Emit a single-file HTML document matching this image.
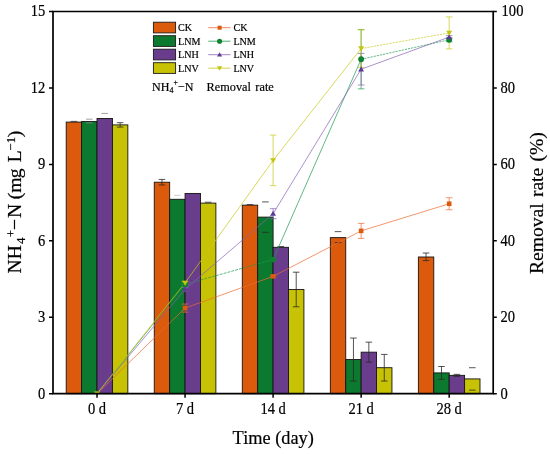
<!DOCTYPE html>
<html><head><meta charset="utf-8"><title>NH4+-N and removal rate</title>
<style>html,body{margin:0;padding:0;background:#fff;}svg{display:block;}text{font-family:"Liberation Serif","Times New Roman",serif;fill:#000;stroke:#000;stroke-width:0.2px;}</style></head><body>
<svg width="550" height="454" viewBox="0 0 550 454">
<rect x="0" y="0" width="550" height="454" fill="#ffffff"/>
<rect x="66.21" y="122.08" width="15.41" height="271.62" fill="#DB5A0C" stroke="#141414" stroke-width="0.9"/>
<rect x="81.61" y="121.57" width="15.41" height="272.13" fill="#0C7A2E" stroke="#141414" stroke-width="0.9"/>
<rect x="97.02" y="118.52" width="15.41" height="275.18" fill="#6A3D8C" stroke="#141414" stroke-width="0.9"/>
<rect x="112.43" y="124.89" width="15.41" height="268.81" fill="#C8C204" stroke="#141414" stroke-width="0.9"/>
<rect x="154.25" y="182.22" width="15.41" height="211.48" fill="#DB5A0C" stroke="#141414" stroke-width="0.9"/>
<rect x="169.65" y="199.29" width="15.41" height="194.41" fill="#0C7A2E" stroke="#141414" stroke-width="0.9"/>
<rect x="185.06" y="193.43" width="15.41" height="200.27" fill="#6A3D8C" stroke="#141414" stroke-width="0.9"/>
<rect x="200.47" y="203.11" width="15.41" height="190.59" fill="#C8C204" stroke="#141414" stroke-width="0.9"/>
<rect x="242.29" y="205.15" width="15.41" height="188.55" fill="#DB5A0C" stroke="#141414" stroke-width="0.9"/>
<rect x="257.69" y="217.12" width="15.41" height="176.58" fill="#0C7A2E" stroke="#141414" stroke-width="0.9"/>
<rect x="273.10" y="247.32" width="15.41" height="146.38" fill="#6A3D8C" stroke="#141414" stroke-width="0.9"/>
<rect x="288.51" y="289.49" width="15.41" height="104.21" fill="#C8C204" stroke="#141414" stroke-width="0.9"/>
<rect x="330.33" y="237.63" width="15.41" height="156.06" fill="#DB5A0C" stroke="#141414" stroke-width="0.9"/>
<rect x="345.73" y="359.56" width="15.41" height="34.14" fill="#0C7A2E" stroke="#141414" stroke-width="0.9"/>
<rect x="361.14" y="352.17" width="15.41" height="41.53" fill="#6A3D8C" stroke="#141414" stroke-width="0.9"/>
<rect x="376.55" y="367.71" width="15.41" height="25.99" fill="#C8C204" stroke="#141414" stroke-width="0.9"/>
<rect x="418.37" y="257.00" width="15.41" height="136.70" fill="#DB5A0C" stroke="#141414" stroke-width="0.9"/>
<rect x="433.77" y="372.91" width="15.41" height="20.79" fill="#0C7A2E" stroke="#141414" stroke-width="0.9"/>
<rect x="449.18" y="375.35" width="15.41" height="18.35" fill="#6A3D8C" stroke="#141414" stroke-width="0.9"/>
<rect x="464.59" y="378.92" width="15.41" height="14.78" fill="#C8C204" stroke="#141414" stroke-width="0.9"/>
<path d="M70.61 121.38H77.21" stroke="#2a2a2a" stroke-width="0.8" fill="none"/>
<path d="M86.02 119.17H92.62M86.02 122.87H92.62" stroke="#8a8a8a" stroke-width="0.8" fill="none"/>
<path d="M101.42 113.42H108.02" stroke="#8a8a8a" stroke-width="0.8" fill="none"/>
<path d="M116.83 122.69H123.43M116.83 127.09H123.43M120.13 122.69V127.09" stroke="#2a2a2a" stroke-width="0.8" fill="none"/>
<path d="M158.65 179.42H165.25M158.65 185.02H165.25M161.95 179.42V185.02" stroke="#2a2a2a" stroke-width="0.8" fill="none"/>
<path d="M174.06 195.29H180.66" stroke="#c4c4c4" stroke-width="0.8" fill="none"/>
<path d="M204.87 202.21H211.47" stroke="#2a2a2a" stroke-width="0.8" fill="none"/>
<path d="M246.69 204.55H253.29" stroke="#2a2a2a" stroke-width="0.8" fill="none"/>
<path d="M262.10 201.92H268.70M262.10 232.32H268.70" stroke="#2a2a2a" stroke-width="0.8" fill="none"/>
<path d="M277.50 246.52H284.10" stroke="#2a2a2a" stroke-width="0.8" fill="none"/>
<path d="M292.91 272.19H299.51M292.91 306.79H299.51M296.21 272.19V306.79" stroke="#2a2a2a" stroke-width="0.8" fill="none"/>
<path d="M334.73 231.63H341.33M334.73 242.63H341.33" stroke="#2a2a2a" stroke-width="0.8" fill="none"/>
<path d="M350.14 338.06H356.74M350.14 381.06H356.74M353.44 338.06V381.06" stroke="#2a2a2a" stroke-width="0.8" fill="none"/>
<path d="M365.54 342.17H372.14M365.54 362.17H372.14M368.84 342.17V362.17" stroke="#2a2a2a" stroke-width="0.8" fill="none"/>
<path d="M380.95 354.41H387.55M380.95 381.01H387.55M384.25 354.41V381.01" stroke="#2a2a2a" stroke-width="0.8" fill="none"/>
<path d="M422.77 253.00H429.37M422.77 260.60H429.37M426.07 253.00V260.60" stroke="#2a2a2a" stroke-width="0.8" fill="none"/>
<path d="M438.18 366.51H444.78M438.18 379.31H444.78M441.48 366.51V379.31" stroke="#2a2a2a" stroke-width="0.8" fill="none"/>
<path d="M453.58 374.35H460.18M453.58 376.35H460.18M456.88 374.35V376.35" stroke="#2a2a2a" stroke-width="0.8" fill="none"/>
<path d="M468.99 367.72H475.59M468.99 390.12H475.59" stroke="#2a2a2a" stroke-width="0.8" fill="none"/>
<clipPath id="pc"><rect x="53.0" y="11.5" width="440.2" height="382.2"/></clipPath><g clip-path="url(#pc)">
<line x1="97.02" y1="393.70" x2="185.06" y2="308.09" stroke="#EE6A30" stroke-width="0.7"/>
<line x1="185.06" y1="308.09" x2="273.10" y2="276.36" stroke="#EE6A30" stroke-width="0.7"/>
<line x1="273.10" y1="276.36" x2="361.14" y2="230.88" stroke="#EE6A30" stroke-width="0.7"/>
<line x1="361.14" y1="230.88" x2="449.18" y2="203.75" stroke="#EE6A30" stroke-width="0.7"/>
<line x1="97.02" y1="393.70" x2="185.06" y2="284.39" stroke="#1E9A50" stroke-width="0.7"/>
<line x1="185.06" y1="284.39" x2="273.10" y2="259.55" stroke="#1E9A50" stroke-width="0.7" stroke-dasharray="3 1"/>
<line x1="273.10" y1="259.55" x2="361.14" y2="59.27" stroke="#1E9A50" stroke-width="0.7"/>
<line x1="361.14" y1="59.27" x2="449.18" y2="39.78" stroke="#1E9A50" stroke-width="0.7" stroke-dasharray="2.2 1"/>
<line x1="97.02" y1="393.70" x2="185.06" y2="289.36" stroke="#8563B4" stroke-width="0.7"/>
<line x1="185.06" y1="289.36" x2="273.10" y2="213.68" stroke="#8563B4" stroke-width="0.7"/>
<line x1="273.10" y1="213.68" x2="361.14" y2="69.21" stroke="#8563B4" stroke-width="0.7"/>
<line x1="361.14" y1="69.21" x2="449.18" y2="37.11" stroke="#8563B4" stroke-width="0.7"/>
<line x1="97.02" y1="393.70" x2="185.06" y2="282.86" stroke="#C8C818" stroke-width="0.7"/>
<line x1="185.06" y1="282.86" x2="273.10" y2="160.37" stroke="#C8C818" stroke-width="0.7"/>
<line x1="273.10" y1="160.37" x2="361.14" y2="48.57" stroke="#C8C818" stroke-width="0.7"/>
<line x1="361.14" y1="48.57" x2="449.18" y2="32.90" stroke="#C8C818" stroke-width="0.7" stroke-dasharray="2.2 1"/>
<path d="M181.76 303.99H188.36M181.76 312.19H188.36M185.06 303.99V312.19" stroke="#EE6A30" stroke-width="0.7" fill="none"/>
<path d="M269.80 275.56H276.40M269.80 277.16H276.40M273.10 275.56V277.16" stroke="#EE6A30" stroke-width="0.7" fill="none"/>
<path d="M357.84 223.38H364.44M357.84 238.38H364.44M361.14 223.38V238.38" stroke="#EE6A30" stroke-width="0.7" fill="none"/>
<path d="M445.88 197.75H452.48M445.88 209.75H452.48M449.18 197.75V209.75" stroke="#EE6A30" stroke-width="0.7" fill="none"/>
<path d="M181.76 282.39H188.36M181.76 286.39H188.36M185.06 282.39V286.39" stroke="#1E9A50" stroke-width="0.7" fill="none"/>
<path d="M269.80 258.55H276.40M269.80 260.55H276.40M273.10 258.55V260.55" stroke="#1E9A50" stroke-width="0.7" fill="none"/>
<path d="M357.84 29.67H364.44M357.84 88.87H364.44M361.14 29.67V88.87" stroke="#1E9A50" stroke-width="0.7" fill="none"/>
<path d="M445.88 37.78H452.48M445.88 41.78H452.48M449.18 37.78V41.78" stroke="#1E9A50" stroke-width="0.7" fill="none"/>
<path d="M181.76 287.36H188.36M181.76 291.36H188.36M185.06 287.36V291.36" stroke="#8563B4" stroke-width="0.7" fill="none"/>
<path d="M269.80 208.68H276.40M269.80 218.68H276.40M273.10 208.68V218.68" stroke="#8563B4" stroke-width="0.7" fill="none"/>
<path d="M357.84 53.41H364.44M357.84 85.01H364.44M361.14 53.41V85.01" stroke="#8563B4" stroke-width="0.7" fill="none"/>
<path d="M445.88 35.61H452.48M445.88 38.61H452.48M449.18 35.61V38.61" stroke="#8563B4" stroke-width="0.7" fill="none"/>
<path d="M181.76 281.36H188.36M181.76 284.36H188.36M185.06 281.36V284.36" stroke="#C8C818" stroke-width="0.7" fill="none"/>
<path d="M269.80 135.07H276.40M269.80 185.67H276.40M273.10 135.07V185.67" stroke="#C8C818" stroke-width="0.7" fill="none"/>
<path d="M357.84 29.77H364.44M357.84 67.37H364.44M361.14 29.77V67.37" stroke="#C8C818" stroke-width="0.7" fill="none"/>
<path d="M445.88 16.90H452.48M445.88 48.90H452.48M449.18 16.90V48.90" stroke="#C8C818" stroke-width="0.7" fill="none"/>
<rect x="94.72" y="391.40" width="4.60" height="4.60" fill="#DB5A0C"/>
<rect x="182.76" y="305.79" width="4.60" height="4.60" fill="#DB5A0C"/>
<rect x="270.80" y="274.06" width="4.60" height="4.60" fill="#DB5A0C"/>
<rect x="358.84" y="228.58" width="4.60" height="4.60" fill="#DB5A0C"/>
<rect x="446.88" y="201.45" width="4.60" height="4.60" fill="#DB5A0C"/>
<circle cx="97.02" cy="393.70" r="2.90" fill="#0E8230"/>
<circle cx="185.06" cy="284.39" r="2.90" fill="#0E8230"/>
<circle cx="273.10" cy="259.55" r="2.90" fill="#0E8230"/>
<circle cx="361.14" cy="59.27" r="2.90" fill="#0E8230"/>
<circle cx="449.18" cy="39.78" r="2.90" fill="#0E8230"/>
<path d="M97.02 390.80L99.92 395.88H94.12Z" fill="#5E3A94"/>
<path d="M185.06 286.46L187.96 291.53H182.16Z" fill="#5E3A94"/>
<path d="M273.10 210.78L276.00 215.86H270.20Z" fill="#5E3A94"/>
<path d="M361.14 66.31L364.04 71.39H358.24Z" fill="#5E3A94"/>
<path d="M449.18 34.21L452.08 39.28H446.28Z" fill="#5E3A94"/>
<path d="M97.02 396.65L99.97 391.49H94.07Z" fill="#C4C410"/>
<path d="M185.06 285.81L188.01 280.65H182.11Z" fill="#C4C410"/>
<path d="M273.10 163.32L276.05 158.15H270.15Z" fill="#C4C410"/>
<path d="M361.14 51.52L364.09 46.36H358.19Z" fill="#C4C410"/>
<path d="M449.18 35.85L452.13 30.69H446.23Z" fill="#C4C410"/>
</g>
<path d="M53.0 11.5H493.2V393.7H53.0Z" fill="none" stroke="#000" stroke-width="1.7"/>
<path d="M49.00 393.70H53.00M49.00 317.26H53.00M49.00 240.82H53.00M49.00 164.38H53.00M49.00 87.94H53.00M49.00 11.50H53.00M493.20 393.70H496.80M493.20 317.26H496.80M493.20 240.82H496.80M493.20 164.38H496.80M493.20 87.94H496.80M493.20 11.50H496.80M97.02 393.70V397.70M185.06 393.70V397.70M273.10 393.70V397.70M361.14 393.70V397.70M449.18 393.70V397.70" stroke="#000" stroke-width="1.5" fill="none"/>
<text transform="translate(45.20 398.80) scale(0.92 1)" font-size="15.8" text-anchor="end" xml:space="preserve">0</text>
<text transform="translate(45.20 322.36) scale(0.92 1)" font-size="15.8" text-anchor="end" xml:space="preserve">3</text>
<text transform="translate(45.20 245.92) scale(0.92 1)" font-size="15.8" text-anchor="end" xml:space="preserve">6</text>
<text transform="translate(45.20 169.48) scale(0.92 1)" font-size="15.8" text-anchor="end" xml:space="preserve">9</text>
<text transform="translate(45.20 93.04) scale(0.92 1)" font-size="15.8" text-anchor="end" xml:space="preserve">12</text>
<text transform="translate(45.20 15.90) scale(0.92 1)" font-size="15.8" text-anchor="end" xml:space="preserve">15</text>
<text transform="translate(500.40 398.80) scale(0.92 1)" font-size="15.8" text-anchor="start" xml:space="preserve">0</text>
<text transform="translate(500.40 322.36) scale(0.92 1)" font-size="15.8" text-anchor="start" xml:space="preserve">20</text>
<text transform="translate(500.40 245.92) scale(0.92 1)" font-size="15.8" text-anchor="start" xml:space="preserve">40</text>
<text transform="translate(500.40 169.48) scale(0.92 1)" font-size="15.8" text-anchor="start" xml:space="preserve">60</text>
<text transform="translate(500.40 93.04) scale(0.92 1)" font-size="15.8" text-anchor="start" xml:space="preserve">80</text>
<text transform="translate(501.60 15.80) scale(0.92 1)" font-size="15.8" text-anchor="start" xml:space="preserve">100</text>
<text transform="translate(97.02 414.20) scale(0.92 1)" font-size="15.8" text-anchor="middle" xml:space="preserve">0 d</text>
<text transform="translate(185.06 414.20) scale(0.92 1)" font-size="15.8" text-anchor="middle" xml:space="preserve">7 d</text>
<text transform="translate(273.10 414.20) scale(0.92 1)" font-size="15.8" text-anchor="middle" xml:space="preserve">14 d</text>
<text transform="translate(361.14 414.20) scale(0.92 1)" font-size="15.8" text-anchor="middle" xml:space="preserve">21 d</text>
<text transform="translate(449.18 414.20) scale(0.92 1)" font-size="15.8" text-anchor="middle" xml:space="preserve">28 d</text>
<text transform="translate(273.20 444.20) scale(0.94 1)" font-size="19.5" text-anchor="middle" xml:space="preserve">Time (day)</text>
<text transform="translate(20.80 273.50) rotate(-90) scale(1 1)" font-size="19.6" text-anchor="start" xml:space="preserve">NH<tspan font-size="12.8" x="29.45" y="4.2">4</tspan><tspan font-size="12.8" x="36.15" y="-6.2">+</tspan><tspan x="43.6" y="0">−</tspan><tspan x="55.5">N</tspan><tspan x="74.15">(</tspan><tspan x="80.8">m</tspan><tspan x="95.15">g</tspan><tspan x="111.3">L</tspan><tspan font-size="12.8" x="122.65" y="-6.2">−</tspan><tspan font-size="12.8" x="130.2">1</tspan><tspan x="136.3" y="0">)</tspan></text>
<text transform="translate(542.80 274.00) rotate(-90) scale(1 0.96)" font-size="19.6" text-anchor="start" xml:space="preserve"><tspan style="word-spacing:1.25px">Removal rate (%)</tspan></text>
<rect x="153.40" y="22.20" width="22.2" height="10.7" fill="#DB5A0C" stroke="#1a1a1a" stroke-width="0.9"/>
<text transform="translate(178.00 31.30) scale(0.92 1)" font-size="11" text-anchor="start" xml:space="preserve">CK</text>
<line x1="208.3" y1="27.70" x2="230.5" y2="27.70" stroke="#EE6A30" stroke-width="0.8"/>
<rect x="217.58" y="25.68" width="4.05" height="4.05" fill="#DB5A0C"/>
<text transform="translate(233.40 31.30) scale(0.92 1)" font-size="11" text-anchor="start" xml:space="preserve">CK</text>
<rect x="153.40" y="35.70" width="22.2" height="10.7" fill="#0C7A2E" stroke="#1a1a1a" stroke-width="0.9"/>
<text transform="translate(178.00 44.80) scale(0.92 1)" font-size="11" text-anchor="start" xml:space="preserve">LNM</text>
<line x1="208.3" y1="41.20" x2="230.5" y2="41.20" stroke="#1E9A50" stroke-width="0.8"/>
<circle cx="219.60" cy="41.20" r="2.55" fill="#0E8230"/>
<text transform="translate(233.40 44.80) scale(0.92 1)" font-size="11" text-anchor="start" xml:space="preserve">LNM</text>
<rect x="153.40" y="49.20" width="22.2" height="10.7" fill="#6A3D8C" stroke="#1a1a1a" stroke-width="0.9"/>
<text transform="translate(178.00 58.30) scale(0.92 1)" font-size="11" text-anchor="start" xml:space="preserve">LNH</text>
<line x1="208.3" y1="54.70" x2="230.5" y2="54.70" stroke="#8563B4" stroke-width="0.8"/>
<path d="M219.60 52.15L222.15 56.61H217.05Z" fill="#5E3A94"/>
<text transform="translate(233.40 58.30) scale(0.92 1)" font-size="11" text-anchor="start" xml:space="preserve">LNH</text>
<rect x="153.40" y="62.70" width="22.2" height="10.7" fill="#C8C204" stroke="#1a1a1a" stroke-width="0.9"/>
<text transform="translate(178.00 71.80) scale(0.92 1)" font-size="11" text-anchor="start" xml:space="preserve">LNV</text>
<line x1="208.3" y1="68.20" x2="230.5" y2="68.20" stroke="#C8C818" stroke-width="0.8"/>
<path d="M219.60 70.80L222.20 66.25H217.00Z" fill="#C4C410"/>
<text transform="translate(233.40 71.80) scale(0.92 1)" font-size="11" text-anchor="start" xml:space="preserve">LNV</text>
<text transform="translate(152.00 90.60) scale(0.93 1)" font-size="13" text-anchor="start" xml:space="preserve">NH<tspan font-size="8.5" dy="2.8">4</tspan><tspan font-size="8.5" dy="-8">+</tspan><tspan dy="5.2">−N</tspan></text>
<text transform="translate(206.60 90.60) scale(0.945 1)" font-size="13" text-anchor="start" xml:space="preserve"><tspan style="word-spacing:1.5px">Removal rate</tspan></text>
</svg></body></html>
